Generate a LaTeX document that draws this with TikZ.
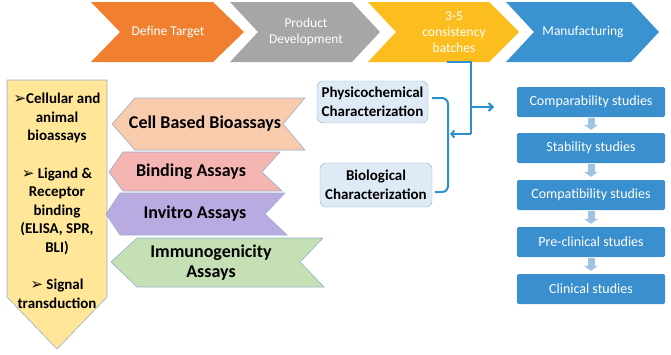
\documentclass[tikz,border=0pt]{standalone}
\usepackage{fontspec}
\setmainfont{Carlito}
\newfontfamily\dingfont{DejaVu Sans}
\usetikzlibrary{arrows.meta}

\definecolor{chevorange}{RGB}{240,128,48}
\definecolor{chevgray}{RGB}{166,166,166}
\definecolor{chevgold}{RGB}{252,190,30}
\definecolor{chevblue}{RGB}{58,147,208}
\definecolor{listyellow}{RGB}{255,230,153}
\definecolor{edgeblue}{RGB}{150,175,205}
\definecolor{cellpeach}{RGB}{248,203,173}
\definecolor{bindpink}{RGB}{244,180,178}
\definecolor{vitrolav}{RGB}{185,170,225}
\definecolor{immgreen}{RGB}{197,224,180}
\definecolor{charfill}{RGB}{222,235,247}
\definecolor{studyblue}{RGB}{58,143,206}
\definecolor{stepblue}{RGB}{160,195,225}
\definecolor{linkblue}{RGB}{46,143,207}

\begin{document}
\begin{tikzpicture}[x=1pt,y=-1pt,
  chevlabel/.style={text=white, align=center, inner sep=0pt,
    font=\fontsize{13.5}{16}\selectfont},
  listlabel/.style={align=center, inner sep=0pt,
    font=\bfseries\fontsize{15}{18.5}\selectfont},
  bannerlabel/.style={align=center, inner sep=0pt,
    font=\bfseries\fontsize{18}{20}\selectfont},
  charbox/.style={draw=edgeblue, fill=charfill, rounded corners=6pt,
    align=center, inner sep=0pt, font=\bfseries\fontsize{15}{19}\selectfont},
  studybox/.style={fill=studyblue, text=white, rounded corners=2pt,
    minimum width=148pt, minimum height=30pt, inner sep=0pt,
    font=\fontsize{14}{16}\selectfont},
  stepdown/.style={stepblue, line width=7pt,
    -{Triangle[length=5pt,width=14pt]}},
  conn/.style={linkblue, line width=2pt}]
  \useasboundingbox (0,0) rectangle (671,354);

  % top process chevrons
  \fill[chevorange] (91,2) -- (213,2) -- (244,32) -- (213,62) -- (91,62) -- (120,32) -- cycle;
  \fill[chevgray] (230,2) -- (352,2) -- (380,32) -- (352,62) -- (230,62) -- (258,32) -- cycle;
  \fill[chevgold] (368,2) -- (489,2) -- (519,32) -- (489,62) -- (368,62) -- (396,32) -- cycle;
  \fill[chevblue] (506,2) -- (631,2) -- (659,32) -- (631,62) -- (506,62) -- (534,32) -- cycle;
  \node[chevlabel] (define) at (168,32) {Define Target};
  \node[chevlabel] (product) at (306,31.5) {Product\\Development};
  \node[chevlabel] (batches) at (454,32) {3-5\\consistency\\batches};
  \node[chevlabel] (manuf) at (583,32) {Manufacturing};

  % tall yellow arrow with the assay list
  \filldraw[fill=listyellow, draw=edgeblue, line width=0.6pt]
    (7,80) -- (107,80) -- (107,297) -- (57,349) -- (7,297) -- cycle;
  \node[listlabel] (cellular) at (57,118) {{\dingfont ➢}Cellular and\\animal\\bioassays};
  \node[listlabel] (ligand) at (57,211) {{\dingfont ➢} Ligand \&\\Receptor\\binding\\(ELISA, SPR,\\BLI)};
  \node[listlabel] (signal) at (57,294) {{\dingfont ➢} Signal\\transduction};

  % left-pointing assay banners
  \filldraw[fill=cellpeach, draw=edgeblue, line width=0.6pt]
    (112,124) -- (135,98) -- (305,98) -- (283,124) -- (305,150) -- (135,150) -- cycle;
  \filldraw[fill=bindpink, draw=edgeblue, line width=0.6pt]
    (109,172) -- (123,152) -- (280,152) -- (262,172) -- (282,191) -- (123,191) -- cycle;
  \filldraw[fill=vitrolav, draw=edgeblue, line width=0.6pt]
    (106,214) -- (120,193) -- (285,193) -- (265,214) -- (287,235) -- (120,235) -- cycle;
  \filldraw[fill=immgreen, draw=edgeblue, line width=0.6pt]
    (111,262) -- (137,238) -- (323,238) -- (300,262) -- (324,287) -- (137,287) -- cycle;
  \node[bannerlabel] (cellbased) at (205,124) {Cell Based Bioassays};
  \node[bannerlabel] (binding) at (191,172) {Binding Assays};
  \node[bannerlabel] (invitro) at (195,214) {Invitro Assays};
  \node[bannerlabel] (immuno) at (211,263) {Immunogenicity\\Assays};

  % characterization boxes
  \node[charbox, minimum width=111pt, minimum height=42pt] (phys) at (372.5,102) {Physicochemical\\Characterization};
  \node[charbox, minimum width=112pt, minimum height=44pt] (bio) at (376,185) {Biological\\Characterization};

  % studies column
  \node[studybox] (comp) at (591,102) {Comparability studies};
  \node[studybox] (stab) at (591,148) {Stability studies};
  \node[studybox] (compat) at (591,195) {Compatibility studies};
  \node[studybox] (precl) at (591,242) {Pre-clinical studies};
  \node[studybox] (clin) at (591,289) {Clinical studies};
  \draw[stepdown] ([yshift=-1pt]comp.south) -- ([yshift=3pt]stab.north);
  \draw[stepdown] ([yshift=-1pt]stab.south) -- ([yshift=3pt]compat.north);
  \draw[stepdown] ([yshift=-1pt]compat.south) -- ([yshift=3pt]precl.north);
  \draw[stepdown] ([yshift=-1pt]precl.south) -- ([yshift=3pt]clin.north);

  % blue connectors
  \coordinate (yb) at (447,62);
  \coordinate (tr) at (471,62);
  \coordinate (jn) at (471,134);
  \coordinate (br) at (448,134);
  \coordinate (ar) at (494,107);
  \draw[conn] (yb) -- (tr) -- (jn);
  \draw[conn, -{Straight Barb[length=3pt,width=7pt]}] (jn) -- ([xshift=2pt]br);
  \draw[conn, -{Straight Barb[length=4pt,width=8pt]}] (tr |- ar) -- (ar);
  \draw[conn, rounded corners=6pt] ([shift={(4,-4)}]phys.east) -| (br);
  \draw[conn, rounded corners=6pt] ([shift={(3,7)}]bio.east) -| (br);
\end{tikzpicture}
\end{document}
